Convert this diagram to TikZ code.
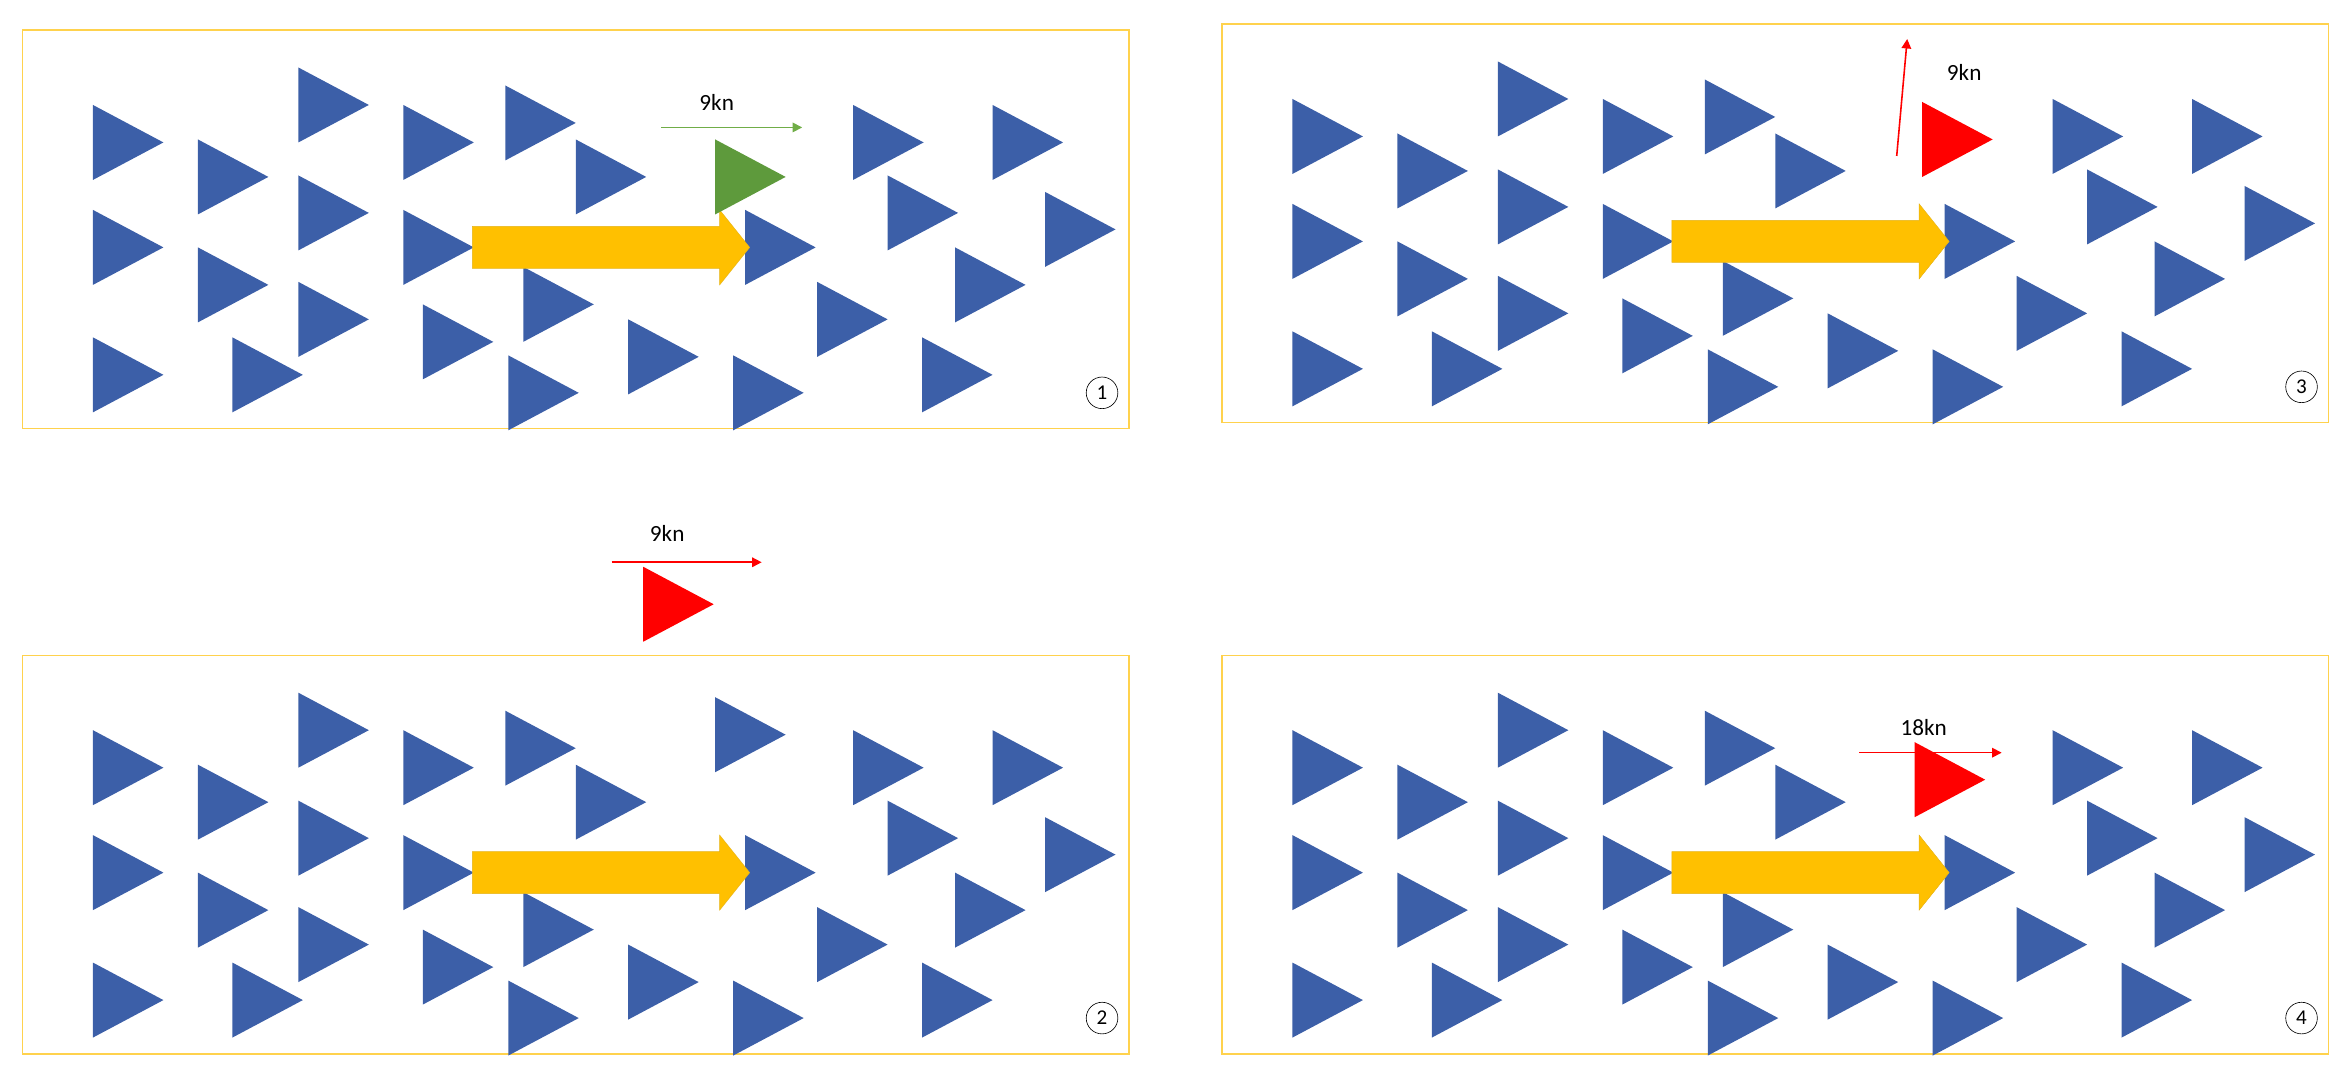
\documentclass[tikz,border=0pt]{standalone}
\usepackage{fontspec}
\setmainfont{Carlito}
\usetikzlibrary{arrows.meta}
\definecolor{tblue}{HTML}{3C5FA8}
\definecolor{tyel}{HTML}{FFC000}
\definecolor{tgreen}{HTML}{5E9A3C}
\definecolor{tgreenl}{HTML}{70AD47}
\definecolor{tborder}{HTML}{FFD24D}
\newcommand\trg[3]{\fill[#3] (#1-23,#2-25)--(#1+24,#2)--(#1-23,#2+25)--cycle;}
\tikzset{
 panel/.style={draw=tborder,line width=1.2pt},
 num/.style={circle,draw=black,line width=0.6pt,minimum size=30pt,inner sep=0pt,font=\fontsize{20}{20}\selectfont},
 lbl/.style={font=\fontsize{22}{22}\selectfont,inner sep=0pt},
 bigarrow/.style={fill=tyel,draw=tyel!80!gray,line width=0.4pt},
}
\newcommand\basetris{%
 \foreach \x/\y in {85/95,155/118,222/70,292/95,360/82,407/118,592/95,685/95,
   85/165,155/190,222/142,292/165,520/165,615/142,720/153,660/190,
   85/250,178/250,222/213,305/228,372/203,442/238,568/213,362/262,512/262,638/250}
   {\trg{\x}{\y}{tblue}}%
 \fill[bigarrow] (315,151)--(480,151)--(480,140)--(500,165)--(480,190)--(480,179)--(315,179)--cycle;
}
\begin{document}
\begin{tikzpicture}[x=0.05cm,y=-0.05cm]
\useasboundingbox (0,0) rectangle (1568,722);
% panel 1
\begin{scope}
 \draw[panel] (15,20) rectangle (753,286);
 \basetris
 \trg{500}{118}{tgreen}
 \coordinate (g1) at (441,85); \coordinate (g2) at (535,85);
 \draw[tgreenl,line width=1.5pt,-{Triangle[length=9pt,width=9pt]}] (g1)--(g2);
 \node[lbl] (l1) at (478,68) {9kn};
 \node[num] (n1) at (735,262) {1};
\end{scope}
% panel 2
\begin{scope}[yshift=-417*0.05cm]
 \draw[panel] (15,20) rectangle (753,286);
 \basetris
 \trg{500}{73}{tblue}
 \node[num] (n2) at (735,262) {2};
\end{scope}
\trg{452}{403}{red}
\coordinate (r1) at (408,375); \coordinate (r2) at (508,375);
\draw[red,line width=1.5pt,-{Triangle[length=9pt,width=9pt]}] (r1)--(r2);
\node[lbl] (l2) at (445,356) {9kn};
% panel 3
\begin{scope}[xshift=800*0.05cm,yshift=4*0.05cm]
 \draw[panel] (15,20) rectangle (753,286);
 \basetris
 \trg{505}{97}{red}
 \coordinate (u1) at (465,108); \coordinate (u2) at (472,30);
 \draw[red,line width=1.5pt,-{Triangle[length=9pt,width=9pt]}] (u1)--(u2);
 \node[lbl] (l3) at (510,52) {9kn};
 \node[num] (n3) at (735,262) {3};
\end{scope}
% panel 4
\begin{scope}[xshift=800*0.05cm,yshift=-417*0.05cm]
 \draw[panel] (15,20) rectangle (753,286);
 \basetris
 \trg{500}{103}{red}
 \coordinate (s1) at (440,85); \coordinate (s2) at (535,85);
 \draw[red,line width=1.5pt,-{Triangle[length=9pt,width=9pt]}] (s1)--(s2);
 \node[lbl] (l4) at (483,68) {18kn};
 \node[num] (n4) at (735,262) {4};
\end{scope}
\end{tikzpicture}
\end{document}
